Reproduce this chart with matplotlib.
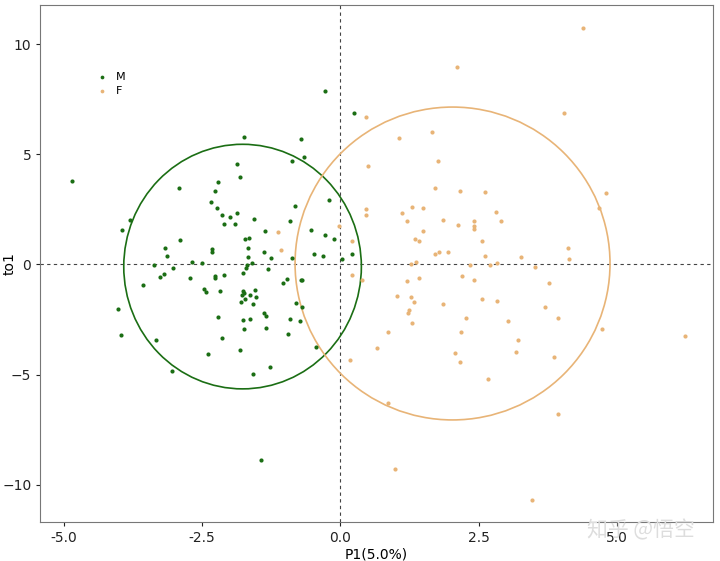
import matplotlib
matplotlib.use("Agg")
import matplotlib.pyplot as plt
from matplotlib.patches import Ellipse

m_x = [-4.86,-1.74,-0.72,-0.65,-0.87,-1.87,-1.81,-2.22,-2.92,-2.26,-2.35,-2.24,-2.14,-1.99,-1.87,-2.11,-1.91,-1.56,
       -0.82,-0.92,-0.20,-0.53,-0.28,-0.11,-1.37,-1.72,-1.66,-3.81,-3.96,-2.90,-3.17,-3.13,-2.32,-2.32,-1.68,-1.39,
       -1.26,-1.68,-0.88,-0.48,-0.32,0.03,0.21,-3.37,-2.69,-2.51,-3.02,-3.19,-3.26,-3.58,-1.69,-1.71,-1.60,-1.31,
       -1.76,-2.11,-2.26,-2.27,-2.73,-2.47,-2.44,-2.18,-1.76,-1.78,-1.75,-1.73,-1.79,-1.63,-1.55,-1.53,-1.58,
       -1.04,-0.97,-0.71,-0.69,-4.03,-2.21,-1.76,-1.64,-1.39,-1.35,-0.92,-0.73,-0.81,-0.70,-1.75,-1.35,-0.95,
       -3.97,-3.34,-2.14,-0.44,-1.81,-2.39,-1.27,-3.05,-1.59,0.24,-0.28,-1.44]
m_y = [3.77,5.77,5.71,4.89,4.69,4.57,3.97,3.74,3.45,3.35,2.83,2.58,2.23,2.17,2.32,1.82,1.85,2.05,
       2.64,1.99,2.90,1.56,1.34,1.16,1.53,1.14,1.20,2.02,1.56,1.11,0.75,0.39,0.69,0.54,0.73,0.57,
       0.29,0.33,0.29,0.48,0.39,0.26,0.46,-0.02,0.10,0.05,-0.16,-0.42,-0.58,-0.94,-0.05,-0.16,0.05,-0.19,
       -0.39,-0.48,-0.55,-0.64,-0.61,-1.11,-1.25,-1.19,-1.19,-1.40,-1.31,-1.58,-1.70,-1.41,-1.17,-1.46,-1.81,
       -0.84,-0.67,-0.70,-0.69,-2.03,-2.40,-2.53,-2.46,-2.20,-2.34,-2.49,-2.59,-1.75,-1.94,-2.94,-2.88,-3.14,
       -3.21,-3.41,-3.36,-3.73,-3.89,-4.09,-4.68,-4.85,-4.97,6.86,7.87,-8.87]

f_x = [0.46,4.04,1.65,1.06,1.76,0.50,1.71,2.16,2.61,4.80,4.68,0.47,0.46,1.29,1.49,1.11,1.20,1.86,2.82,2.91,
       2.12,2.42,2.42,2.42,-0.02,1.49,1.35,1.43,2.56,0.21,-1.13,-1.07,1.72,1.78,1.94,2.61,3.26,4.12,4.14,
       1.36,1.28,2.35,2.70,2.83,3.52,0.21,0.40,1.20,1.43,2.20,2.42,3.78,1.03,1.27,1.34,1.86,2.56,2.84,
       1.24,1.23,1.29,2.28,3.04,3.70,3.93,4.74,0.87,2.19,3.22,0.67,2.08,2.17,3.17,3.87,0.18,2.67,0.87,3.93,
       4.39,2.11,6.23,3.46,0.99]
f_y = [6.71,6.86,5.99,5.75,4.69,4.45,3.45,3.35,3.29,3.26,2.58,2.52,2.23,2.61,2.58,2.32,1.96,2.02,2.40,1.99,
       1.78,1.99,1.75,1.60,1.76,1.53,1.14,1.04,1.05,1.04,1.49,0.66,0.48,0.54,0.55,0.37,0.33,0.75,0.26,
       0.11,0.00,-0.04,-0.01,0.07,-0.10,-0.46,-0.72,-0.76,-0.61,-0.55,-0.70,-0.84,-1.43,-1.49,-1.72,-1.79,-1.59,-1.64,
       -2.05,-2.21,-2.68,-2.43,-2.56,-1.93,-2.43,-2.94,-3.05,-3.09,-3.41,-3.79,-4.03,-4.44,-3.98,-4.21,-4.35,-5.22,-6.27,-6.80,
       10.72,8.96,-3.24,-10.68,-9.28]

groups = ["M", "F"]
colors = ["#1b6e14", "#e8b477"]
ell_center = [(-1.77, -0.1), (2.03, 0.04)]
ell_size = [(4.3, 11.1), (5.7, 14.2)]

fig = plt.figure(figsize=(7.2, 5.61), dpi=100)
ax = fig.add_axes([0.056, 0.07, 0.934, 0.921])
for xs, ys, c, g in [(m_x, m_y, colors[0], groups[0]), (f_x, f_y, colors[1], groups[1])]:
    ax.scatter(xs, ys, s=9, color=c, label=g, zorder=3, linewidths=0)
for (cx, cy), (w, h), c in zip(ell_center, ell_size, colors):
    ax.add_patch(Ellipse((cx, cy), w, h, fill=False, edgecolor=c, lw=1.2, zorder=2))
ax.axhline(0, color="#444444", ls=(0, (3, 3)), lw=0.8, zorder=1)
ax.axvline(0, color="#444444", ls=(0, (3, 3)), lw=0.8, zorder=1)
ax.set_xlim(-5.43, 6.74)
ax.set_ylim(-11.68, 11.77)
ax.set_xticks([-5, -2.5, 0, 2.5, 5])
ax.set_xticklabels(["-5.0", "-2.5", "0.0", "2.5", "5.0"])
ax.set_yticks([-10, -5, 0, 5, 10])
ax.tick_params(labelsize=10, colors="#222222", length=3)
for s in ax.spines.values():
    s.set_color("#777777")
ax.set_xlabel("P1(5.0%)", fontsize=10, labelpad=2)
ax.set_ylabel("to1", fontsize=10)
ax.yaxis.set_label_coords(-0.035, 0.5)
ax.legend(loc="upper left", bbox_to_anchor=(0.06, 0.89), frameon=False, fontsize=8,
          handletextpad=0.3, markerscale=0.9, labelspacing=0.4)
fig.text(0.815, 0.035, "知乎 @悟空", fontsize=15, color="#dddddd",
         family=["Noto Sans CJK SC", "DejaVu Sans"], ha="left", va="bottom")
fig.savefig("out.png")
